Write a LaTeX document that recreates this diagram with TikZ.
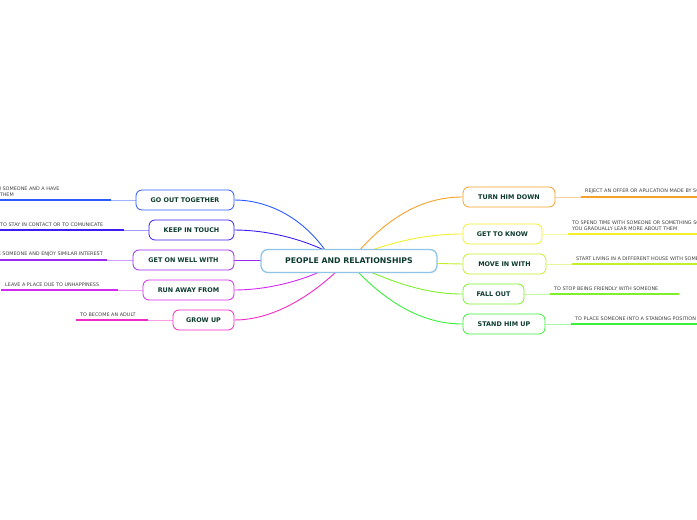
\documentclass[tikz,border=0pt]{standalone}
\usepackage{fontspec}
\setmainfont{DejaVu Sans}
\usetikzlibrary{backgrounds}
\definecolor{txt}{HTML}{0D3B2E}
\definecolor{cA}{HTML}{2A5BFF}\definecolor{cB}{HTML}{3A1FF0}\definecolor{cC}{HTML}{9A2AF0}
\definecolor{cD}{HTML}{D22AF0}\definecolor{cE}{HTML}{F02AC8}
\definecolor{cF}{HTML}{F5A02A}\definecolor{cG}{HTML}{F2F02A}\definecolor{cH}{HTML}{C2F02A}
\definecolor{cI}{HTML}{7EF02A}\definecolor{cJ}{HTML}{3AF03A}\definecolor{cM}{HTML}{8FC4E8}
\tikzset{
 topic/.style={draw=#1, line width=0.8pt, rounded corners=6pt, fill=white, text=txt, font=\fontsize{6.4}{7}\selectfont\bfseries, minimum height=20pt, inner xsep=4pt},
 leaf/.style={font=\fontsize{4.9}{6.2}\selectfont, text=black!75, inner sep=0pt, align=left},
 conn/.style={draw=#1, line width=0.9pt},
 under/.style={draw=#1, line width=1.3pt},
 thin/.style={draw=#1!45, line width=0.6pt}
}
\begin{document}
\begin{tikzpicture}[x=1pt,y=-1pt]
\clip (0,0) rectangle (697,520);
\useasboundingbox (0,0) rectangle (697,520);
\node[draw=cM, line width=1.3pt, rounded corners=7pt, fill=white, text=txt, font=\fontsize{7.8}{9}\selectfont\bfseries, minimum width=176pt, minimum height=23pt] (c) at (349,261) {PEOPLE AND RELATIONSHIPS};
\node[topic=cA, minimum width=98pt] (n1) at (185,200) {GO OUT TOGETHER};
\node[topic=cB, minimum width=85pt] (n2) at (191.5,230) {KEEP IN TOUCH};
\node[topic=cC, minimum width=101pt] (n3) at (183.5,260) {GET ON WELL WITH};
\node[topic=cD, minimum width=91pt] (n4) at (188.5,290) {RUN AWAY FROM};
\node[topic=cE, minimum width=61pt] (n5) at (203.5,320) {GROW UP};
\node[topic=cF, minimum width=92pt] (m1) at (509,197) {TURN HIM DOWN};
\node[topic=cG, minimum width=79pt] (m2) at (502.5,234) {GET TO KNOW};
\node[topic=cH, minimum width=83pt] (m3) at (504.5,264) {MOVE IN WITH};
\node[topic=cI, minimum width=61pt] (m4) at (493.5,294) {FALL OUT};
\node[topic=cJ, minimum width=82pt] (m5) at (504,324) {STAND HIM UP};
\coordinate (a1) at (111,200); \coordinate (a1e) at (-5,200);
\coordinate (a2) at (124,230); \coordinate (a2e) at (-5,230);
\coordinate (a3) at (107,260); \coordinate (a3e) at (-5,260);
\coordinate (a4) at (118,290); \coordinate (a4e) at (1,290);
\coordinate (a5) at (148,320); \coordinate (a5e) at (76,320);
\coordinate (b1) at (581,197); \coordinate (b1e) at (705,197);
\coordinate (b2) at (568,234); \coordinate (b2e) at (705,234);
\coordinate (b3) at (572,264); \coordinate (b3e) at (705,264);
\coordinate (b4) at (550,294); \coordinate (b4e) at (679,294);
\coordinate (b5) at (571,324); \coordinate (b5e) at (705,324);
\node[leaf, anchor=south west] (t1) at (-52,197) {TO SPEND TIME WITH SOMEONE AND A HAVE\\RELATIONSHIP WITH THEM};
\node[leaf, anchor=south west] (t2) at (0,227) {TO STAY IN CONTACT OR TO COMUNICATE};
\node[leaf, anchor=south east] (t3) at (103,257) {TO LIKE SOMEONE AND ENJOY SIMILAR INTEREST};
\node[leaf, anchor=south west] (t4) at (5,287) {LEAVE A PLACE DUE TO UNHAPPINESS};
\node[leaf, anchor=south west] (t5) at (80,317) {TO BECOME AN ADULT};
\node[leaf, anchor=south west] (u1) at (585,194) {REJECT AN OFFER OR APLICATION MADE BY SOMEONE};
\node[leaf, anchor=south west] (u2) at (572,231) {TO SPEND TIME WITH SOMEONE OR SOMETHING SO\\YOU GRADUALLY LEAR MORE ABOUT THEM};
\node[leaf, anchor=south west] (u3) at (576,261) {START LIVING IN A DIFFERENT HOUSE WITH SOMEONE};
\node[leaf, anchor=south west] (u4) at (554,291) {TO STOP BEING FRIENDLY WITH SOMEONE};
\node[leaf, anchor=south west] (u5) at (575,321) {TO PLACE SOMEONE INTO A STANDING POSITION};
\begin{scope}[on background layer]
\draw[conn=cA] (325,250) .. controls (300,215) and (265,200) .. (n1.east);
\draw[conn=cB] (328,252) .. controls (300,238) and (265,230) .. (n2.east);
\draw[conn=cC] (330,260) -- (n3.east);
\draw[conn=cD] (328,268) .. controls (300,282) and (265,290) .. (n4.east);
\draw[conn=cE] (336,272) .. controls (300,305) and (265,320) .. (n5.east);
\draw[conn=cF] (358,252) .. controls (395,210) and (430,197) .. (m1.west);
\draw[conn=cG] (366,252) .. controls (400,240) and (430,234) .. (m2.west);
\draw[conn=cH] (370,262) -- (m3.west);
\draw[conn=cI] (366,270) .. controls (400,285) and (430,294) .. (m4.west);
\draw[conn=cJ] (358,272) .. controls (395,310) and (430,324) .. (m5.west);
\foreach \n/\a/\col in {n1/a1/cA,n2/a2/cB,n3/a3/cC,n4/a4/cD,n5/a5/cE}{
  \draw[thin=\col] (\n.west) -- (\a);}
\foreach \n/\a/\col in {m1/b1/cF,m2/b2/cG,m3/b3/cH,m4/b4/cI,m5/b5/cJ}{
  \draw[thin=\col] (\n.east) -- (\a);}
\draw[under=cA] (a1) -- (a1e); \draw[under=cB] (a2) -- (a2e); \draw[under=cC] (a3) -- (a3e);
\draw[under=cD] (a4) -- (a4e); \draw[under=cE] (a5) -- (a5e);
\draw[under=cF] (b1) -- (b1e); \draw[under=cG] (b2) -- (b2e); \draw[under=cH] (b3) -- (b3e);
\draw[under=cI] (b4) -- (b4e); \draw[under=cJ] (b5) -- (b5e);
\end{scope}
\end{tikzpicture}
\end{document}
